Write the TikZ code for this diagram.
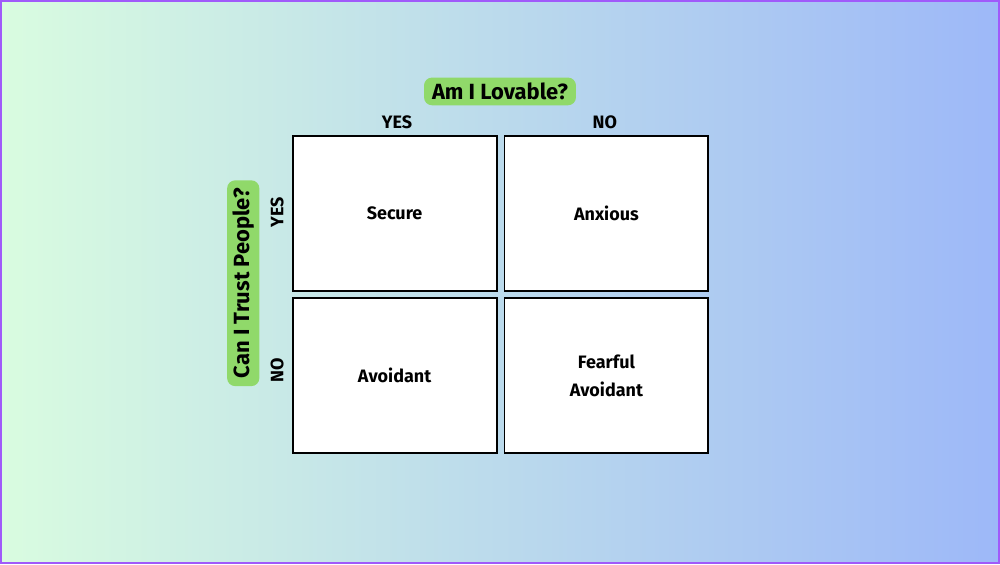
\documentclass[tikz,border=0pt]{standalone}
\usepackage{fontspec}
\setmainfont{Fira Sans}
\begin{document}
\begin{tikzpicture}[x=0.75pt,y=-0.75pt,
  cell/.style={draw=black,line width=1.5pt,fill=white,minimum width=204*0.75pt,minimum height=155*0.75pt,font=\fontsize{13.5}{17}\selectfont\bfseries,align=center},
  pill/.style={fill=pillgreen,rounded corners=6pt,inner xsep=6pt,inner ysep=4pt,font=\fontsize{16.5}{20}\selectfont\bfseries},
  ax/.style={font=\fontsize{13.5}{16}\selectfont\bfseries}]
\definecolor{pillgreen}{HTML}{90D96A}
\definecolor{bgl}{HTML}{D9FCE0}
\definecolor{bgr}{HTML}{9DB8F8}
\shade[left color=bgl,right color=bgr] (0,0) rectangle (1000,564);
\draw[draw={rgb,255:red,160;green,90;blue,250},line width=1.5pt] (0.5,0.5) rectangle (999.5,563.5);
\node[cell] (s) at (394.5,213) {Secure};
\node[cell] (a) at (606.5,213) {Anxious};
\node[cell] (v) at (394.5,375.5) {Avoidant};
\node[cell] (f) at (606.5,375.5) {Fearful\\[4pt]Avoidant};
\node[pill] (top) at (500,91) {Am I Lovable?};
\node[pill,rotate=90] (left) at (243,283) {Can I Trust People?};
\node[ax] (ty) at (397,122) {YES};
\node[ax] (tn) at (605,122) {NO};
\node[ax,rotate=90] (ly) at (277,212) {YES};
\node[ax,rotate=90] (ln) at (277,370) {NO};
\end{tikzpicture}
\end{document}
